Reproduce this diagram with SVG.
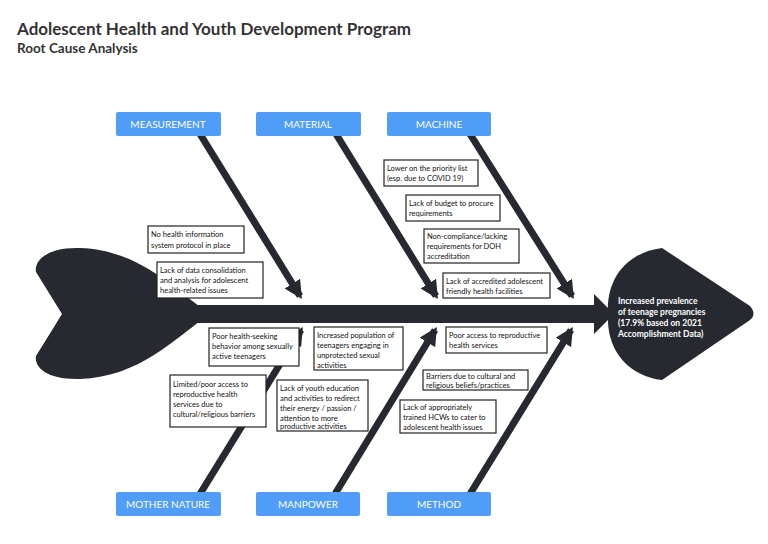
<svg xmlns="http://www.w3.org/2000/svg" width="768" height="544" viewBox="0 0 768 544">
<defs>
<style>
.t{font-family:Lato,"Liberation Sans",sans-serif}
.cat rect{fill:#4f9cf9}
.cat text{fill:#fff;font-size:10px;text-anchor:middle;font-family:Lato,"Liberation Sans",sans-serif}
.box rect{fill:#fff;stroke:#222;stroke-width:1.2}
.box text{font-size:7.5px;fill:#111;font-family:Lato,"Liberation Sans",sans-serif}
.bone{stroke:#262a30;stroke-width:7;marker-end:url(#ah)}
</style>
<marker id="ah" viewBox="0 0 10 10" refX="8" refY="5" markerWidth="2.6" markerHeight="2.6" orient="auto" markerUnits="strokeWidth">
<path d="M0,0 L10,5 L0,10 Z" fill="#262a30"/>
</marker>
</defs>
<rect width="768" height="544" fill="#fff"/>
<text class="t" x="17" y="35" font-size="17" font-weight="bold" fill="#333">Adolescent Health and Youth Development Program</text>
<text class="t" x="17" y="53" font-size="13.5" font-weight="bold" fill="#333">Root Cause Analysis</text>

<g id="tail"><path d="M210,314 C175,290 140,250 80,248 C45,247 34,262 36,272 L62,314 L36,356 C34,366 45,380 80,379 C140,377 175,338 210,314 Z" fill="#262a30"/></g>
<g id="spine"><rect x="150" y="305" width="448" height="18" fill="#262a30"/><path d="M594,294 L614,314 L594,334 Z" fill="#262a30"/></g>
<g id="head"><path d="M608,314 C606,275 630,252 662,248 L750,306 Q757,314 750,320 L662,380 C630,376 606,352 608,314 Z" fill="#262a30"/>
<text class="t" font-size="8.5" font-weight="bold" fill="#fff"><tspan x="618" y="304">Increased prevalence</tspan><tspan x="618" y="315">of teenage pregnancies</tspan><tspan x="618" y="326">(17.9% based on 2021</tspan><tspan x="618" y="337">Accomplishment Data)</tspan></text></g>

<g id="connectors">
<line class="bone" x1="200" y1="134" x2="300" y2="296"/>
<line class="bone" x1="336" y1="134" x2="436" y2="296"/>
<line class="bone" x1="470" y1="134" x2="572" y2="296"/>
<line class="bone" x1="200" y1="494" x2="301" y2="330"/>
<line class="bone" x1="335" y1="494" x2="435" y2="330"/>
<line class="bone" x1="470" y1="494" x2="571" y2="330"/>
</g>

<g id="measurement" class="cat"><rect x="116" y="112" width="105" height="24" rx="2"/><text x="168" y="128">MEASUREMENT</text></g>
<g id="material" class="cat"><rect x="256" y="112" width="105" height="24" rx="2"/><text x="308" y="128">MATERIAL</text></g>
<g id="machine" class="cat"><rect x="387" y="112" width="104" height="24" rx="2"/><text x="439" y="128">MACHINE</text></g>
<g id="mothernature" class="cat"><rect x="116" y="492" width="105" height="24" rx="2"/><text x="168" y="508">MOTHER NATURE</text></g>
<g id="manpower" class="cat"><rect x="256" y="492" width="104" height="24" rx="2"/><text x="308" y="508">MANPOWER</text></g>
<g id="method" class="cat"><rect x="387" y="492" width="104" height="24" rx="2"/><text x="439" y="508">METHOD</text></g>

<g id="m1" class="box"><rect x="148" y="226" width="96" height="27"/><text><tspan x="151" y="237">No health information</tspan><tspan x="151" y="248">system protocol in place</tspan></text></g>
<g id="m2" class="box"><rect x="157" y="262" width="106" height="36"/><text><tspan x="160" y="273">Lack of data consolidation</tspan><tspan x="160" y="283">and analysis for adolescent</tspan><tspan x="160" y="293">health-related issues</tspan></text></g>
<g id="c1" class="box"><rect x="384" y="160" width="94" height="26"/><text><tspan x="387" y="171">Lower on the priority list</tspan><tspan x="387" y="181">(esp. due to COVID 19)</tspan></text></g>
<g id="c2" class="box"><rect x="406" y="195" width="94" height="26"/><text><tspan x="409" y="206">Lack of budget to procure</tspan><tspan x="409" y="216">requirements</tspan></text></g>
<g id="c3" class="box"><rect x="424" y="229" width="95" height="34"/><text><tspan x="427" y="239">Non-compliance/lacking</tspan><tspan x="427" y="249">requirements for DOH</tspan><tspan x="427" y="259">accreditation</tspan></text></g>
<g id="c4" class="box"><rect x="443" y="273" width="107" height="25"/><text><tspan x="446" y="284">Lack of accredited adolescent</tspan><tspan x="446" y="294">friendly health facilities</tspan></text></g>
<g id="n1" class="box"><rect x="209" y="328" width="90" height="38"/><text><tspan x="212" y="339">Poor health-seeking</tspan><tspan x="212" y="349">behavior among sexually</tspan><tspan x="212" y="359">active teenagers</tspan></text></g>
<g id="n2" class="box"><rect x="170" y="375" width="96" height="52"/><text><tspan x="173" y="387">Limited/poor access to</tspan><tspan x="173" y="397">reproductive health</tspan><tspan x="173" y="407">services due to</tspan><tspan x="173" y="417">cultural/religious barriers</tspan></text></g>
<g id="p1" class="box"><rect x="314" y="327" width="89" height="43"/><text><tspan x="317" y="338">Increased population of</tspan><tspan x="317" y="348">teenagers engaging in</tspan><tspan x="317" y="358">unprotected sexual</tspan><tspan x="317" y="368">activities</tspan></text></g>
<g id="p2" class="box"><rect x="277" y="380" width="91" height="51"/><text><tspan x="280" y="391">Lack of youth education</tspan><tspan x="280" y="401">and activities to redirect</tspan><tspan x="280" y="411">their energy / passion /</tspan><tspan x="280" y="421">attention to more</tspan><tspan x="280" y="431" dy="-2">productive activities</tspan></text></g>
<g id="d1" class="box"><rect x="446" y="327" width="101" height="26"/><text><tspan x="449" y="338">Poor access to reproductive</tspan><tspan x="449" y="348">health services</tspan></text></g>
<g id="d2" class="box"><rect x="423" y="370" width="105" height="20"/><text><tspan x="426" y="379">Barriers due to  cultural and</tspan><tspan x="426" y="388">religious beliefs/practices</tspan></text></g>
<g id="d3" class="box"><rect x="400" y="400" width="96" height="33"/><text><tspan x="403" y="410">Lack of appropriately</tspan><tspan x="403" y="420">trained HCWs to cater to</tspan><tspan x="403" y="430">adolescent health issues</tspan></text></g>
</svg>
